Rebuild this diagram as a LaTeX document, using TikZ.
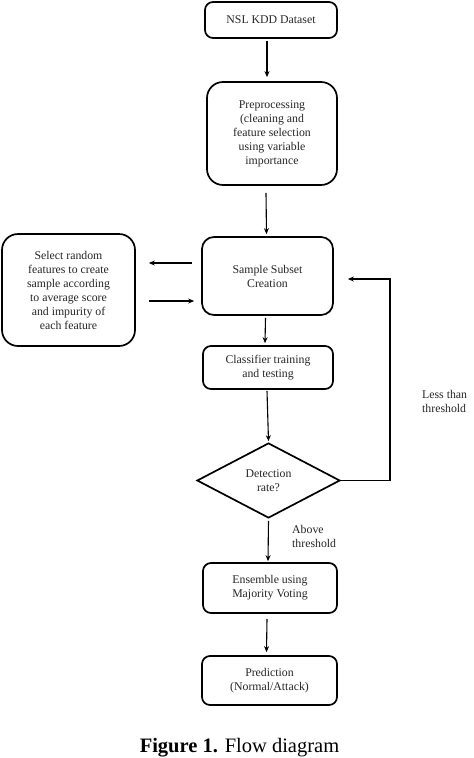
\documentclass[tikz,border=0pt]{standalone}
\usepackage{fontspec}
\setmainfont{Liberation Serif}
\usetikzlibrary{shapes.geometric,arrows.meta}
\begin{document}
\begin{tikzpicture}[x=1pt,y=-1pt,
  boxstyle/.style={draw, line width=1.7pt, rounded corners=8pt, align=center, inner sep=2pt,
    font=\fontsize{11.8}{14}\selectfont, text=black!85},
  bigbox/.style={boxstyle, rounded corners=16pt},
  arr/.style={-{Stealth[length=6pt,width=5pt]}, line width=1.1pt},
  lbl/.style={align=left, inner sep=0pt, font=\fontsize{11.8}{14}\selectfont, text=black!85}]
\useasboundingbox (0,0) rectangle (474,758);
\fill[white] (0,0) rectangle (474,758);

\node[boxstyle, minimum width=132pt, minimum height=36pt] (b1) at (271,20) {NSL KDD Dataset};
\node[bigbox, minimum width=130pt, minimum height=103pt] (b2) at (272,133.5)
  {Preprocessing\\(cleaning and\\feature selection\\using variable\\importance};
\node[boxstyle, rounded corners=12pt, minimum width=131pt, minimum height=78pt] (b3) at (267.5,276)
  {Sample Subset\\Creation};
\node[bigbox, minimum width=133pt, minimum height=112pt] (lb) at (68.5,290)
  {Select random\\features to create\\sample according\\to average score\\and impurity of\\each feature};
\node[boxstyle, minimum width=130pt, minimum height=43pt] (b4) at (268,367.5)
  {Classifier training\\and testing};
\node[draw, diamond, line width=1.7pt, minimum width=143pt, minimum height=75pt, aspect=1.9,
  inner sep=0pt, align=center, font=\fontsize{11.8}{14}\selectfont, text=black!85] (d) at (268.5,480.5)
  {Detection\\rate?};
\node[boxstyle, minimum width=134pt, minimum height=50pt] (b5) at (270,588)
  {Ensemble using\\Majority Voting};
\node[boxstyle, minimum width=135pt, minimum height=49pt] (b6) at (269.5,680.5)
  {Prediction\\(Normal/Attack)};

\draw[arr] ([xshift=-4pt,yshift=-2pt]b1.south) -- ([xshift=-5pt,yshift=4pt]b2.north);
\draw[arr] ([xshift=-6pt,yshift=-7pt]b2.south) -- ([xshift=-1pt,yshift=2pt]b3.north);
\draw[arr] ([xshift=-9pt]b3.west |- 0,263) -- ([xshift=13pt]lb.east |- 0,263);
\draw[arr] ([xshift=13pt]lb.east |- 0,301) -- ([xshift=-7pt]b3.west |- 0,301);
\draw[arr] ([xshift=-2pt,yshift=-2pt]b3.south) -- ([xshift=-3pt,yshift=2pt]b4.north);
\draw[arr] ([xshift=-1pt,yshift=-1pt]b4.south) -- ([yshift=1pt]d.north);
\coordinate (c1) at (390,480.5);
\coordinate (c2) at (390,279);
\draw[arr] (d.east) -- (c1) -- (c2) -- ([xshift=14pt]b3.east |- c2);
\draw[arr] ([yshift=-2pt]d.south) -- ([xshift=-2pt,yshift=1pt]b5.north);
\draw[arr] ([xshift=-3pt,yshift=-5pt]b5.south) -- ([xshift=-3pt,yshift=3pt]b6.north);

\node[lbl, anchor=north west] (lt) at (422,390) {Less than\\threshold};
\node[lbl, anchor=north west] (at) at (292,525) {Above\\threshold};

\node[anchor=base, inner sep=0pt, font=\fontsize{20.5}{24}\selectfont] (cap) at (239.5,752)
  {\textbf{Figure 1.} Flow diagram};
\end{tikzpicture}
\end{document}
